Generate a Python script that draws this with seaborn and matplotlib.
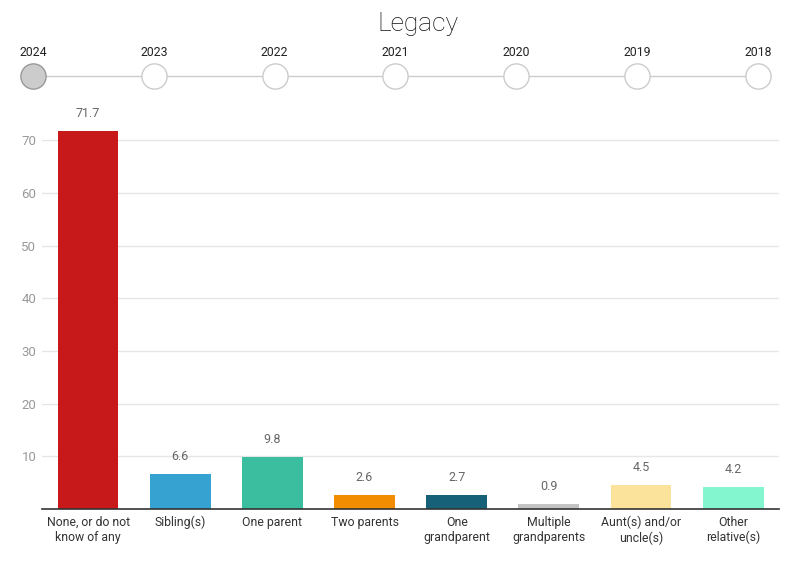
import matplotlib
matplotlib.use("Agg")
import matplotlib.pyplot as plt
import seaborn as sns
import pandas as pd

categories = ["None, or do not\nknow of any", "Sibling(s)", "One parent", "Two parents",
              "One\ngrandparent", "Multiple\ngrandparents", "Aunt(s) and/or\nuncle(s)",
              "Other\nrelative(s)"]
values = [71.7, 6.6, 9.8, 2.6, 2.7, 0.9, 4.5, 4.2]
colors = ["#c8191a", "#36a2d1", "#3bbda0", "#f28c00", "#176178", "#c4c4c4", "#fbe39b", "#83f5cf"]
years = ["2024", "2023", "2022", "2021", "2020", "2019", "2018"]
yticks = [10, 20, 30, 40, 50, 60, 70]

sns.set_theme(style="white")
plt.rcParams["font.family"] = ["Roboto", "DejaVu Sans"]

df = pd.DataFrame({"cat": categories, "val": values})

fig = plt.figure(figsize=(7.97, 5.62), dpi=100)
ax = fig.add_axes([0.0527, 0.0943, 0.925, 0.703])
sns.barplot(data=df, x="cat", y="val", hue="cat", palette=colors, legend=False,
            width=0.66, saturation=1, linewidth=0, ax=ax)
ax.set_ylim(0, 75)
ax.set_xlim(-0.5, len(categories) - 0.5)
ax.set_yticks(yticks)
ax.yaxis.grid(True, color="#e6e6e6", linewidth=1)
ax.set_axisbelow(True)
for s in ["top", "right", "left"]:
    ax.spines[s].set_visible(False)
ax.spines["bottom"].set_color("#333333")
ax.spines["bottom"].set_linewidth(1.2)
ax.tick_params(axis="y", length=0, labelsize=9.5, labelcolor="#999999", pad=4)
ax.tick_params(axis="x", length=0, labelsize=8.8, labelcolor="#333333", pad=5)
ax.set_xlabel("")
ax.set_ylabel("")
for c in ax.containers:
    ax.bar_label(c, fmt="%.1f", padding=8, fontsize=9, color="#666666")

fig.text(0.525, 0.957, "Legacy", ha="center", va="center", fontsize=19,
         fontweight="light", color="#111111")

# year timeline
tl = fig.add_axes([0.0, 0.83, 1.0, 0.12])
tl.set_xlim(0, 797)
tl.set_ylim(0, 67)
tl.axis("off")
xs = [33 + i * 120.8 for i in range(len(years))]
tl.plot([xs[0], xs[-1]], [19, 19], color="#cccccc", lw=1, zorder=1)
for i, (x, yr) in enumerate(zip(xs, years)):
    fc = "#cccccc" if i == 0 else "white"
    ec = "#999999" if i == 0 else "#cccccc"
    tl.scatter([x], [19], s=330, facecolor=fc, edgecolor=ec, linewidth=1, zorder=2)
    tl.text(x, 43, yr, ha="center", va="center", fontsize=8.8, color="#222222")

fig.savefig("out.png", dpi=100)
